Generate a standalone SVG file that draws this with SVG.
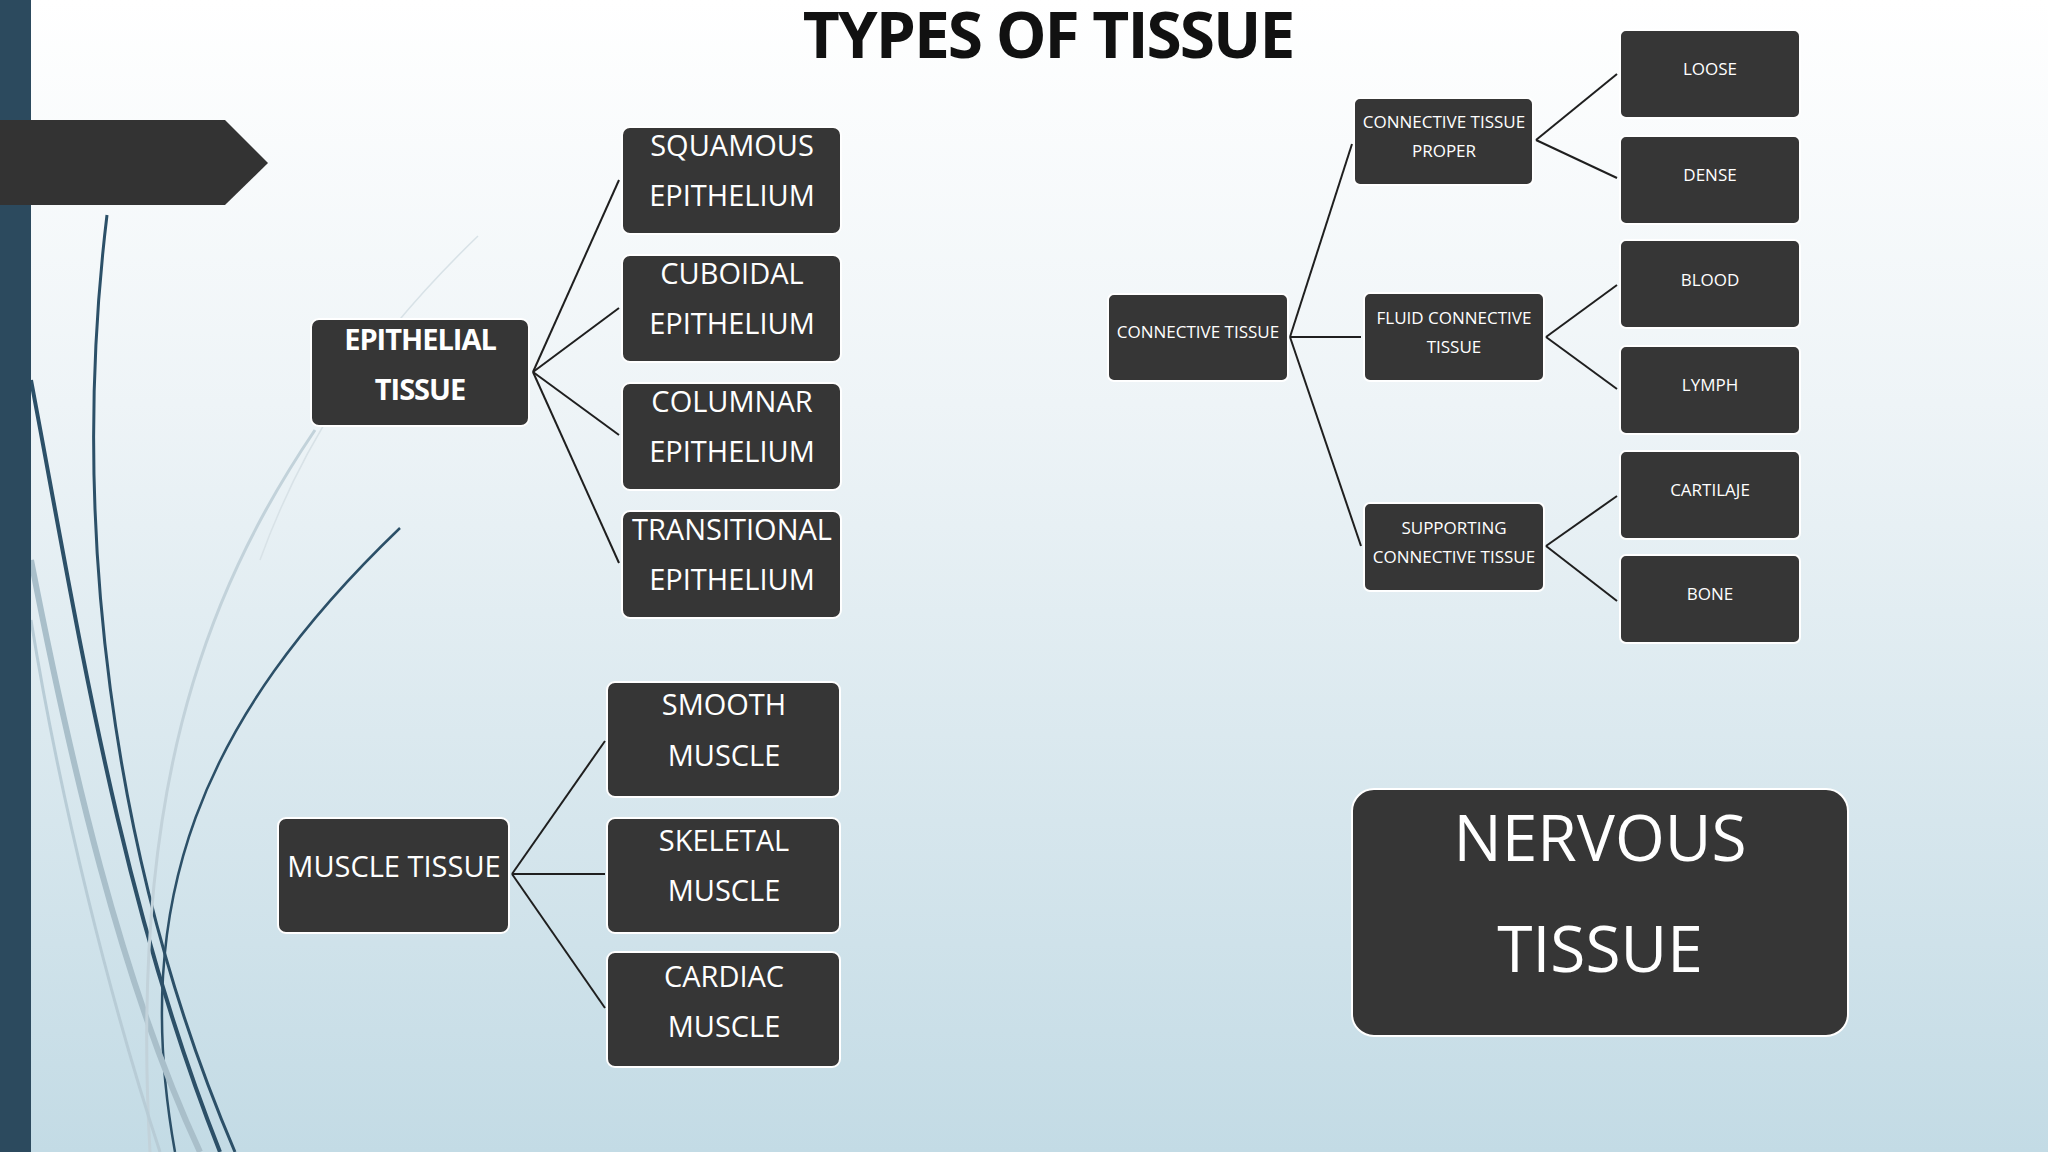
<svg xmlns="http://www.w3.org/2000/svg" width="2048" height="1152" viewBox="0 0 2048 1152">
<defs>
<linearGradient id="bg" x1="0" y1="0" x2="0" y2="1"><stop offset="0" stop-color="#ffffff"/><stop offset="0.35" stop-color="#eef4f7"/><stop offset="1" stop-color="#c3dbe5"/></linearGradient>
</defs>
<style>
.b{fill:#363636;stroke:#ffffff;stroke-width:2}
.t{font-family:"Open Sans","Noto Sans",sans-serif;fill:#ffffff;text-anchor:middle}
.c line{stroke:#1f1f1f;stroke-width:2}
.d{fill:none}
</style>
<rect width="2048" height="1152" fill="url(#bg)"/>
<g class="d">
<path d="M107 215 C70 520 110 860 235 1152" stroke="#2c5068" stroke-width="3"/>
<path d="M31 380 C80 640 120 900 220 1152" stroke="#2c5068" stroke-width="4"/>
<path d="M400 528 C200 720 130 900 175 1152" stroke="#2c5068" stroke-width="2.5"/>
<path d="M31 560 C70 760 120 980 200 1152" stroke="#a9bfca" stroke-width="6"/>
<path d="M315 430 C200 600 130 800 150 1152" stroke="#c2d2da" stroke-width="3"/>
<path d="M478 236 C360 350 300 450 260 560" stroke="#d8e2e7" stroke-width="1.5"/>
<path d="M31 620 C60 800 110 1000 160 1152" stroke="#b8ccd6" stroke-width="3"/>
</g>
<rect x="0" y="0" width="31" height="1152" fill="#2c4a5e"/>
<polygon points="0,120 225,120 268,163 225,205 0,205" fill="#333333"/>
<text x="1048" y="58" font-family="Open Sans,sans-serif" font-weight="bold" font-size="64" letter-spacing="-2" text-anchor="middle" fill="#111">TYPES OF TISSUE</text>
<g class="c">
<line x1="533" y1="372" x2="619" y2="180"/><line x1="533" y1="372" x2="619" y2="308"/><line x1="533" y1="372" x2="619" y2="435"/><line x1="533" y1="372" x2="619" y2="563"/>
<line x1="512" y1="874" x2="605" y2="741"/><line x1="512" y1="874" x2="605" y2="874"/><line x1="512" y1="874" x2="605" y2="1008"/>
<line x1="1290" y1="337" x2="1352" y2="144"/><line x1="1290" y1="337" x2="1361" y2="337"/><line x1="1290" y1="337" x2="1361" y2="546"/>
<line x1="1536" y1="140" x2="1617" y2="74"/><line x1="1536" y1="140" x2="1617" y2="178"/>
<line x1="1546" y1="337" x2="1617" y2="285"/><line x1="1546" y1="337" x2="1617" y2="389"/>
<line x1="1546" y1="546" x2="1617" y2="496"/><line x1="1546" y1="546" x2="1617" y2="601"/>
</g>
<g id="epithelial"><rect class="b" x="311" y="319" width="218" height="107" rx="8"/><text class="t" x="420" y="350" font-size="29" font-weight="bold" letter-spacing="-1">EPITHELIAL</text><text class="t" x="420" y="400" font-size="29" font-weight="bold" letter-spacing="-1">TISSUE</text></g>
<g id="squamous"><rect class="b" x="622" y="127" width="219" height="107" rx="8"/><text class="t" x="732" y="156" font-size="29">SQUAMOUS</text><text class="t" x="732" y="206" font-size="29">EPITHELIUM</text></g>
<g id="cuboidal"><rect class="b" x="622" y="255" width="219" height="107" rx="8"/><text class="t" x="732" y="284" font-size="29">CUBOIDAL</text><text class="t" x="732" y="334" font-size="29">EPITHELIUM</text></g>
<g id="columnar"><rect class="b" x="622" y="383" width="219" height="107" rx="8"/><text class="t" x="732" y="412" font-size="29">COLUMNAR</text><text class="t" x="732" y="462" font-size="29">EPITHELIUM</text></g>
<g id="transitional"><rect class="b" x="622" y="511" width="219" height="107" rx="8"/><text class="t" x="732" y="540" font-size="29">TRANSITIONAL</text><text class="t" x="732" y="590" font-size="29">EPITHELIUM</text></g>
<g id="muscle"><rect class="b" x="278" y="818" width="231" height="115" rx="8"/><text class="t" x="394" y="877" font-size="29">MUSCLE TISSUE</text></g>
<g id="smooth"><rect class="b" x="607" y="682" width="233" height="115" rx="8"/><text class="t" x="724" y="715" font-size="29">SMOOTH</text><text class="t" x="724" y="766" font-size="29">MUSCLE</text></g>
<g id="skeletal"><rect class="b" x="607" y="818" width="233" height="115" rx="8"/><text class="t" x="724" y="851" font-size="29">SKELETAL</text><text class="t" x="724" y="901" font-size="29">MUSCLE</text></g>
<g id="cardiac"><rect class="b" x="607" y="952" width="233" height="115" rx="8"/><text class="t" x="724" y="987" font-size="29">CARDIAC</text><text class="t" x="724" y="1037" font-size="29">MUSCLE</text></g>
<g id="connective"><rect class="b" x="1108" y="294" width="180" height="87" rx="6"/><text class="t" x="1198" y="338" font-size="17">CONNECTIVE TISSUE</text></g>
<g id="ctproper"><rect class="b" x="1354" y="98" width="179" height="87" rx="6"/><text class="t" x="1444" y="128" font-size="17">CONNECTIVE TISSUE</text><text class="t" x="1444" y="157" font-size="17">PROPER</text></g>
<g id="fluid"><rect class="b" x="1364" y="293" width="180" height="88" rx="6"/><text class="t" x="1454" y="324" font-size="17">FLUID CONNECTIVE</text><text class="t" x="1454" y="353" font-size="17">TISSUE</text></g>
<g id="supporting"><rect class="b" x="1364" y="503" width="180" height="88" rx="6"/><text class="t" x="1454" y="534" font-size="17">SUPPORTING</text><text class="t" x="1454" y="563" font-size="17">CONNECTIVE TISSUE</text></g>
<g id="loose"><rect class="b" x="1620" y="30" width="180" height="88" rx="6"/><text class="t" x="1710" y="75" font-size="17">LOOSE</text></g>
<g id="dense"><rect class="b" x="1620" y="136" width="180" height="88" rx="6"/><text class="t" x="1710" y="181" font-size="17">DENSE</text></g>
<g id="blood"><rect class="b" x="1620" y="240" width="180" height="88" rx="6"/><text class="t" x="1710" y="286" font-size="17">BLOOD</text></g>
<g id="lymph"><rect class="b" x="1620" y="346" width="180" height="88" rx="6"/><text class="t" x="1710" y="391" font-size="17">LYMPH</text></g>
<g id="cartilaje"><rect class="b" x="1620" y="451" width="180" height="88" rx="6"/><text class="t" x="1710" y="496" font-size="17">CARTILAJE</text></g>
<g id="bone"><rect class="b" x="1620" y="555" width="180" height="88" rx="6"/><text class="t" x="1710" y="600" font-size="17">BONE</text></g>
<g id="nervous"><rect class="b" x="1352" y="789" width="496" height="247" rx="22"/><text class="t" x="1600" y="861" font-size="64">NERVOUS</text><text class="t" x="1600" y="972" font-size="64">TISSUE</text></g>
</svg>
